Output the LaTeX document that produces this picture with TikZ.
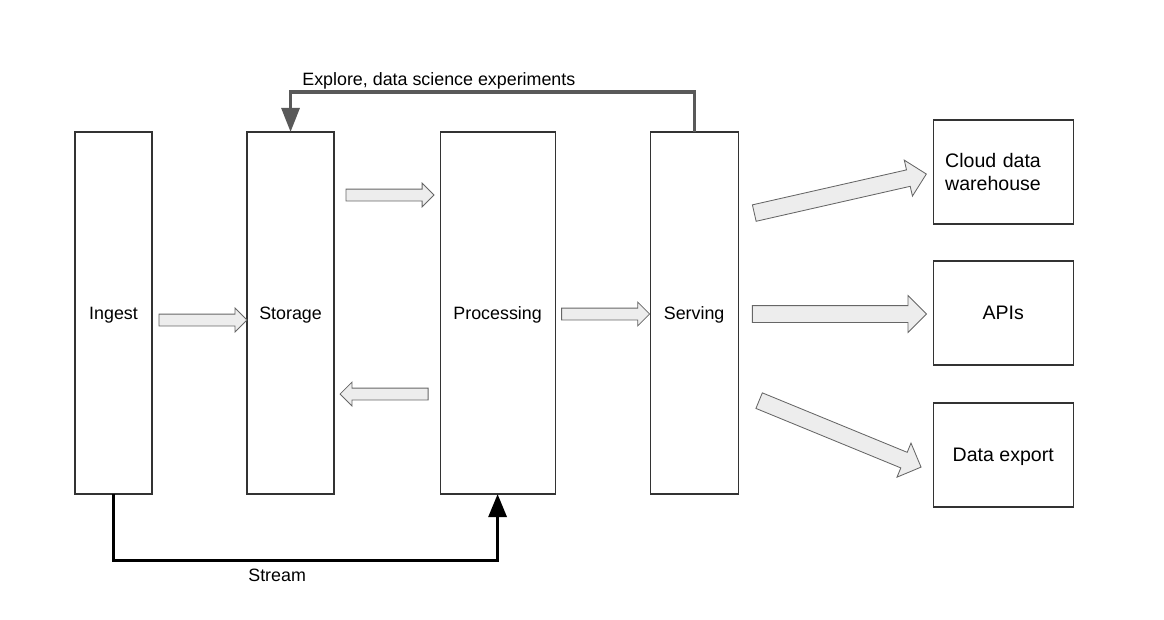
\documentclass[tikz,border=0pt]{standalone}
\usepackage{fontspec}
\setmainfont{Liberation Sans}
\usetikzlibrary{positioning, arrows.meta, calc, shapes.arrows}

\begin{document}
\begin{tikzpicture}[
        x=0.025cm, y=-0.025cm, % one unit = one pixel of the sketch, y runs down
        % --- STYLES ---
        % 1. Pipeline stages: tall white columns
        stage/.style={
                draw=black!80,
                line width=0.8pt,
                minimum height=9.05cm,
                inner sep=0pt,
                outer sep=0pt,
                text depth=0pt,
                font=\fontsize{12.7}{15}\selectfont
            },
        % 2. Destinations on the right
        sink/.style={
                draw=black!80,
                line width=0.8pt,
                minimum width=3.5cm,
                minimum height=2.6cm,
                inner sep=0pt,
                outer sep=0pt,
                text depth=0pt,
                align=center,
                font=\fontsize{13.9}{16.1}\selectfont
            },
        % 3. Grey block arrows (shaft set by inner ysep)
        flow/.style={
                single arrow,
                draw=black!60,
                fill=black!7,
                line width=0.6pt,
                inner xsep=0pt,
                inner ysep=0.1375cm,
                minimum width=0pt,
                single arrow head extend=0.15cm,
                single arrow head indent=0pt,
                sloped,
                allow upside down,
                midway
            },
        bigflow/.style={
                flow,
                inner ysep=0.2cm,
                single arrow head extend=0.25cm
            },
        % 4. Line connectors and their labels
        feedback/.style={
                draw=black!65,
                line width=2.2pt,
                -{Triangle[length=0.6cm, width=0.45cm]}
            },
        stream/.style={
                draw=black,
                line width=2.2pt,
                -{Triangle[length=0.575cm, width=0.45cm]}
            },
        lbl/.style={
                font=\fontsize{12.7}{15}\selectfont,
                inner sep=1pt
            }
    ]
    \useasboundingbox (0,0) rectangle (1164,619);

    % 1. The stages
    \node[stage, minimum width=1.925cm] (ingest) at (113.5,313) {Ingest};
    \node[stage, minimum width=2.175cm, right=2.375cm of ingest] (storage) {Storage};
    \node[stage, minimum width=2.875cm, right=2.65cm of storage] (processing) {Processing};
    \node[stage, minimum width=2.2cm, right=2.375cm of processing] (serving) {Serving};

    % 2. The destinations
    \node[sink, right=4.875cm of serving] (apis) {APIs};
    \node[sink, above=0.925cm of apis, align=left, text width=2.9cm, inner xsep=0.3cm, text depth={}] (dwh) {Cloud data\\warehouse};
    \node[sink, below=0.95cm of apis] (export) {Data export};

    % 3. Block arrows between stages
    \path ($(ingest.east)+(4,7)$) -- node[flow, minimum height=2.2cm] (f1) {} ($(storage.west)+(-3,7)$);
    \path ($(storage.east)+(9,-118)$) -- node[flow, minimum height=2.2cm] (f2) {} ($(processing.west)+(-9,-118)$);
    \path ($(processing.west)+(-9,81)$) -- node[flow, minimum height=2.2cm] (f3) {} ($(storage.east)+(9,81)$);
    \path ($(processing.east)+(3,1)$) -- node[flow, minimum height=2.2cm] (f4) {} ($(serving.west)+(-3,1)$);

    % 4. Block arrows to the destinations
    \path ($(serving.east)+(12,-99)$) -- node[bigflow, minimum height=4.41cm] (g1) {} ($(dwh.west)+(-11,3)$);
    \path ($(serving.east)+(10,1)$) -- node[bigflow, minimum height=4.35cm] (g2) {} ($(apis.west)+(-11,1)$);
    \path ($(serving.east)+(17,86)$) -- node[bigflow, minimum height=4.375cm] (g3) {} ($(export.west)+(-16,10.5)$);

    % 5. Feedback loop on top
    \draw[feedback] (serving.north) -- ++(0,-40)
    -| node[lbl, pos=0.489, above right] {Explore, data science experiments}
    (storage.north);

    % 6. Stream path below
    \draw[stream] (ingest.south) -- ++(0,66)
    -| node[lbl, pos=0.213, below=4pt] {Stream}
    (processing.south);

\end{tikzpicture}
\end{document}
